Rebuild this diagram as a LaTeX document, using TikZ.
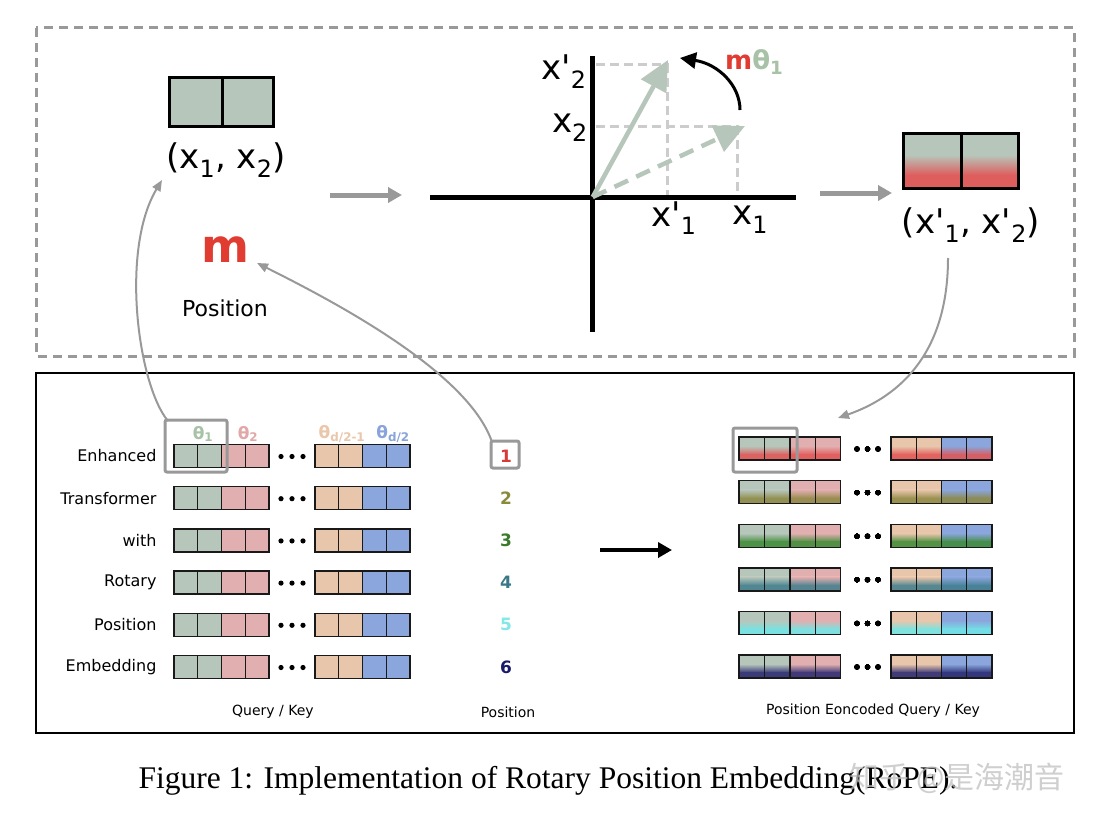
\documentclass[tikz,border=0pt]{standalone}
\usepackage{fontspec}
\setmainfont{DejaVu Sans}[Ligatures=TeXOff]
\newfontfamily\capfont{Liberation Serif}
\newfontfamily\cjkfont{Noto Sans CJK SC}
\usetikzlibrary{arrows.meta}
\definecolor{cG}{HTML}{B7C6BB}
\definecolor{cP}{HTML}{E2AFB0}
\definecolor{cE}{HTML}{E8C6AC}
\definecolor{cB}{HTML}{8AA6DC}
\definecolor{tG}{HTML}{A8C2A8}
\definecolor{tP}{HTML}{E2A8A8}
\definecolor{tE}{HTML}{EAC6AA}
\definecolor{tB}{HTML}{88A4DA}
\definecolor{mred}{HTML}{E03C31}
\definecolor{pc0}{HTML}{E25252}
\definecolor{pc1}{HTML}{8C8740}
\definecolor{pc2}{HTML}{3A8A32}
\definecolor{pc3}{HTML}{3E7C8C}
\definecolor{pc4}{HTML}{6FE6E6}
\definecolor{pc5}{HTML}{24246E}
\definecolor{nc0}{HTML}{D83A3A}
\definecolor{nc1}{HTML}{8A8A3A}
\definecolor{nc2}{HTML}{3A7A2A}
\definecolor{nc3}{HTML}{3A7888}
\definecolor{nc4}{HTML}{82E8E8}
\definecolor{nc5}{HTML}{1A1A6A}
\definecolor{gline}{HTML}{999999}
\definecolor{guidec}{HTML}{CCCCCC}
\newcommand\fs[1]{\fontsize{#1}{#1}\selectfont}
\newcommand\gcell[5]{%
  \fill[#4] (#1,#2) rectangle ++(#3,9.5);
  \shade[top color=#4, bottom color=#5!85!#4] (#1,#2+9) rectangle ++(#3,8.5);
  \fill[#5!85!#4] (#1,#2+17) rectangle ++(#3,6);
  \draw[cellst] (#1,#2) rectangle ++(#3,23);}
\begin{document}
\begin{tikzpicture}[x=1pt,y=-1pt,
  cellst/.style={draw=black!90, line width=1.4pt},
  hl/.style={draw=gline, line width=3pt, rounded corners=2pt},
  conn/.style={draw=gline, line width=2pt, -{Triangle[length=11pt,width=9pt]}},
  garrow/.style={draw=gline, line width=5pt, -{Triangle[length=14pt,width=15pt]}},
  guide/.style={draw=guidec, line width=3pt, dash pattern=on 9pt off 5pt},
  vec/.style={draw=cG, line width=4.5pt, -{Triangle[length=30pt,width=28pt]}},
  rowlab/.style={font=\fs{16}, anchor=east},
  bottomlab/.style={font=\fs{14}},
  big/.style={font=\fs{34}}]
\useasboundingbox (0,0) rectangle (1102,824);
\fill[white] (0,0) rectangle (1102,824);

% frames
\draw[gline, line width=3pt, dash pattern=on 9pt off 6pt] (36,28) rectangle (1074,356);
\draw[black, line width=2.5pt] (36,373) rectangle (1074,733);

% ---- top part ----
\filldraw[fill=cG, draw=black, line width=3pt] (169,78) rectangle (273,127);
\draw[black, line width=3pt] (222,78) -- (222,127);
\node[big] (xlab) at (226,160) {(x\textsubscript{1}, x\textsubscript{2})};
\node[font=\bfseries\fs{46}, text=mred] (mlab) at (225,250) {m};
\node[font=\fs{22}] (poslab) at (225,308) {Position};

\coordinate (ga1) at (330,195); \coordinate (ga2) at (402,195);
\draw[garrow] (ga1) -- (ga2);

% axes and vectors
\coordinate (O) at (592.7,197);
\coordinate (v0) at (745,126);
\coordinate (v1) at (668,60);
\draw[guide] (596,65) -- (667,65) -- (667,197);
\draw[guide] (596,127) -- (737,127) -- (737,197);
\draw[black, line width=5pt] (430,197) -- (796,197);
\draw[black, line width=5pt] (592.7,56) -- (592.7,332);
\draw[vec, dash pattern=on 15pt off 9pt] (O) -- (v0);
\draw[vec] (O) -- (v1);
\node[big] (x2p) at (564,72) {x'\textsubscript{2}};
\node[big] (x2) at (570,128) {x\textsubscript{2}};
\node[big] (x1p) at (674,218) {x'\textsubscript{1}};
\node[big] (x1) at (750,220) {x\textsubscript{1}};
\coordinate (ra) at (740,110); \coordinate (rb) at (680,58);
\draw[black, line width=3pt, -{Triangle[length=16pt,width=16pt]}] (ra) .. controls (740,85) and (718,64) .. (rb);
\node[font=\bfseries\fs{26}, anchor=west, inner sep=0pt] (mth) at (725,62) {\textcolor{mred}{m}\textcolor{tG}{θ\textsubscript{1}}};

\coordinate (gb1) at (820,193); \coordinate (gb2) at (892,193);
\draw[garrow] (gb1) -- (gb2);

\fill[cG] (904.5,134.5) rectangle (1016.5,156);
\shade[top color=cG, bottom color=pc0!90!cG] (904.5,155) rectangle (1016.5,175);
\fill[pc0!90!cG] (904.5,174.5) rectangle (1016.5,186.5);
\draw[black, line width=3pt] (903,133) rectangle (1018,188);
\draw[black, line width=3pt] (961,133) -- (961,188);
\node[big] (xplab) at (971,225) {(x'\textsubscript{1}, x'\textsubscript{2})};

% ---- bottom part ----
\node[font=\bfseries\fs{17}, text=tG] (th1) at (203,434) {θ\textsubscript{1}};
\node[font=\bfseries\fs{17}, text=tP] (th2) at (248,434) {θ\textsubscript{2}};
\node[font=\bfseries\fs{17}, text=tE] (th3) at (342,434) {θ\textsubscript{d/2-1}};
\node[font=\bfseries\fs{17}, text=tB] (th4) at (393,434) {θ\textsubscript{d/2}};

\foreach \r/\lab in {0/Enhanced,1/Transformer,2/with,3/Rotary,4/Position,5/Embedding} {
  \pgfmathsetmacro\yt{444.5+42.2*\r}
  \node[rowlab] (lab\r) at (160,\yt+11.5) {\lab};
  \foreach \i/\c in {0/cG,1/cG,2/cP,3/cP}
    \filldraw[cellst, fill=\c] (174+23.75*\i,\yt) rectangle ++(23.75,23);
  \foreach \i/\c in {0/cE,1/cE,2/cB,3/cB}
    \filldraw[cellst, fill=\c] (315+23.75*\i,\yt) rectangle ++(23.75,23);
  \foreach \d in {281,292,303}
    \fill (\d,\yt+12) circle (2.6);
  \node[font=\bfseries\fs{17}, text=nc\r] (num\r) at (506,\yt+11.5) {\the\numexpr\r+1\relax};
  % right rows
  \pgfmathsetmacro\yr{437+43.6*\r}
  \foreach \i/\c in {0/cG,1/cG,2/cP,3/cP}
    \gcell{739+25.4*\i}{\yr}{25.4}{\c}{pc\r}
  \foreach \i/\c in {0/cE,1/cE,2/cB,3/cB}
    \gcell{891+25.25*\i}{\yr}{25.25}{\c}{pc\r}
  \foreach \d in {857,867.5,878}
    \fill (\d,\yr+12) circle (2.6);
}

\draw[hl] (165,420) rectangle (227,472);
\draw[hl] (733,428) rectangle (797,472);
\draw[hl] (491,441) rectangle (519,468);

\node[bottomlab] (qk) at (273,712) {Query / Key};
\node[bottomlab] (pl) at (508,712) {Position};
\node[bottomlab] (peq) at (873,711) {Position Eoncoded Query / Key};

\coordinate (ba1) at (600,550); \coordinate (ba2) at (672,550);
\draw[black, line width=4pt, -{Triangle[length=14pt,width=15pt]}] (ba1) -- (ba2);

% connectors
\coordinate (hlA) at (168,421); \coordinate (tipA) at (162,180);
\draw[conn] (hlA) .. controls (138,385) and (120,250) .. (tipA);
\coordinate (p1a) at (492,442); \coordinate (tipM) at (257,263);
\draw[conn] (p1a) .. controls (468,372) and (335,302) .. (tipM);
\coordinate (rl) at (948,258); \coordinate (tipR) at (838,418);
\draw[conn] (rl) .. controls (948,340) and (912,392) .. (tipR);

% caption
\node[font=\capfont\fs{31.5}] (cap) at (548,781) {Figure 1: Implementation of Rotary Position Embedding(RoPE).};
\node[font=\cjkfont\fs{30}, text=black!25, opacity=0.75] (wm) at (957,778) {知乎 @是海潮音};
\end{tikzpicture}
\end{document}
